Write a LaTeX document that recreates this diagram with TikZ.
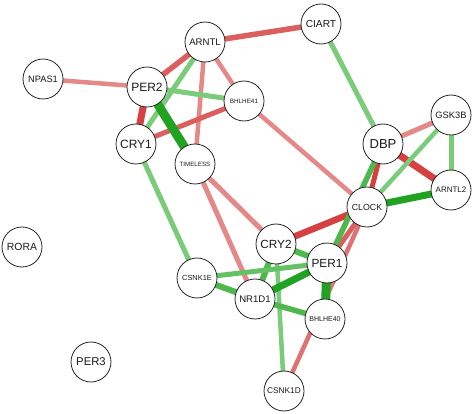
\documentclass[tikz,border=0pt]{standalone}
\usepackage{fontspec}
\setmainfont{Liberation Sans}
\usetikzlibrary{backgrounds}
\newcommand{\fsz}[1]{\fontsize{#1}{#1}\selectfont}
\begin{document}
\begin{tikzpicture}[x=1pt,y=-1pt,
  gene/.style={circle,draw=black!85,line width=0.8pt,fill=white,minimum size=40pt,inner sep=0pt,text=black!90},
  dred/.style={draw={rgb,255:red,214;green,64;blue,64},line width=7pt},
  mred/.style={draw={rgb,255:red,220;green,95;blue,95},line width=5.5pt},
  lred/.style={draw={rgb,255:red,228;green,136;blue,136},line width=4.5pt},
  dgreen/.style={draw={rgb,255:red,34;green,162;blue,34},line width=8pt},
  mgreen/.style={draw={rgb,255:red,78;green,184;blue,78},line width=6pt},
  lgreen/.style={draw={rgb,255:red,122;green,204;blue,122},line width=4.5pt}]
\useasboundingbox (0,0) rectangle (474,414);
\node[gene,font=\fsz{10.2}] (CIART) at (321,24) {CIART};
\node[gene,font=\fsz{9.6}] (ARNTL) at (205,42) {ARNTL};
\node[gene,font=\fsz{9.3}] (NPAS1) at (43,79) {NPAS1};
\node[gene,font=\fsz{12}] (PER2) at (147,87) {PER2};
\node[gene,font=\fsz{6.3}] (BHLHE41) at (244,101) {BHLHE41};
\node[gene,font=\fsz{12}] (CRY1) at (136,144) {CRY1};
\node[gene,font=\fsz{6.2}] (TIMELESS) at (195,164) {TIMELESS};
\node[gene,font=\fsz{9.3}] (GSK3B) at (451,115) {GSK3B};
\node[gene,font=\fsz{13}] (DBP) at (383,144) {DBP};
\node[gene,font=\fsz{8}] (ARNTL2) at (451,190) {ARNTL2};
\node[gene,font=\fsz{8.8}] (CLOCK) at (367,207) {CLOCK};
\node[gene,font=\fsz{10.4}] (RORA) at (22,247) {RORA};
\node[gene,font=\fsz{11.8}] (CRY2) at (276,244) {CRY2};
\node[gene,font=\fsz{11.8}] (PER1) at (327,263) {PER1};
\node[gene,font=\fsz{7.4}] (CSNK1E) at (197,278) {CSNK1E};
\node[gene,font=\fsz{9.6}] (NR1D1) at (255,299) {NR1D1};
\node[gene,font=\fsz{7}] (BHLHE40) at (325,319) {BHLHE40};
\node[gene,font=\fsz{11.3}] (PER3) at (91,362) {PER3};
\node[gene,font=\fsz{8.3}] (CSNK1D) at (284,391) {CSNK1D};
\begin{scope}[on background layer]
\fill[white] (0,0) rectangle (474,414);
% red edges
\draw[lred] (NPAS1.center) -- (PER2.center);
\draw[mred] (ARNTL.center) -- (CIART.center);
\draw[mred] (ARNTL.center) -- (PER2.center);
\draw[lred] (ARNTL.center) -- (BHLHE41.center);
\draw[lred] (ARNTL.center) -- (TIMELESS.center);
\draw[dred] (PER2.center) -- (CRY1.center);
\draw[mred,line width=5pt] (CRY1.center) -- (BHLHE41.center);
\draw[lred] (BHLHE41.center) -- (CLOCK.center);
\draw[lred,line width=5pt] (TIMELESS.center) -- (CRY2.center);
\draw[lred,line width=5pt] (TIMELESS.center) -- (NR1D1.center);
\draw[dred,line width=6.5pt] (CRY2.center) -- (CLOCK.center);
\draw[lred,line width=5pt] (DBP.center) -- (GSK3B.center);
\draw[dred] (DBP.center) -- (ARNTL2.center);
\draw[dred,line width=5pt] (DBP.center) -- (CLOCK.center);
\draw[mred,line width=5pt] (CLOCK.center) -- (PER1.center);
\draw[lred,draw={rgb,255:red,222;green,115;blue,115}] (CLOCK.center) -- (CSNK1D.center);
% green edges
\draw[lgreen,line width=5pt] (CIART.center) -- (DBP.center);
\draw[lgreen,line width=5pt] (ARNTL.center) -- (CRY1.center);
\draw[lgreen,line width=5pt] (PER2.center) -- (BHLHE41.center);
\draw[dgreen,line width=9pt] (PER2.center) -- (TIMELESS.center);
\draw[lgreen,line width=5pt] (CRY1.center) -- (CSNK1E.center);
\draw[lgreen,line width=5pt] (GSK3B.center) -- (ARNTL2.center);
\draw[lgreen] (GSK3B.center) -- (CLOCK.center);
\draw[dgreen,line width=7pt] (ARNTL2.center) -- (CLOCK.center);
\draw[mgreen,line width=5.5pt] (DBP.center) -- (PER1.center);
\draw[mgreen] (CRY2.center) -- (PER1.center);
\draw[mgreen] (CRY2.center) -- (NR1D1.center);
\draw[lgreen] (CRY2.center) -- (CSNK1D.center);
\draw[mgreen,line width=5pt,draw={rgb,255:red,100;green,194;blue,100}] (CSNK1E.center) -- (PER1.center);
\draw[mgreen] (CSNK1E.center) -- (NR1D1.center);
\draw[dgreen,line width=7pt] (NR1D1.center) -- (PER1.center);
\draw[mgreen,line width=5.5pt] (NR1D1.center) -- (BHLHE40.center);
\draw[dgreen,line width=9pt] (PER1.center) -- (BHLHE40.center);
\end{scope}
\end{tikzpicture}
\end{document}
